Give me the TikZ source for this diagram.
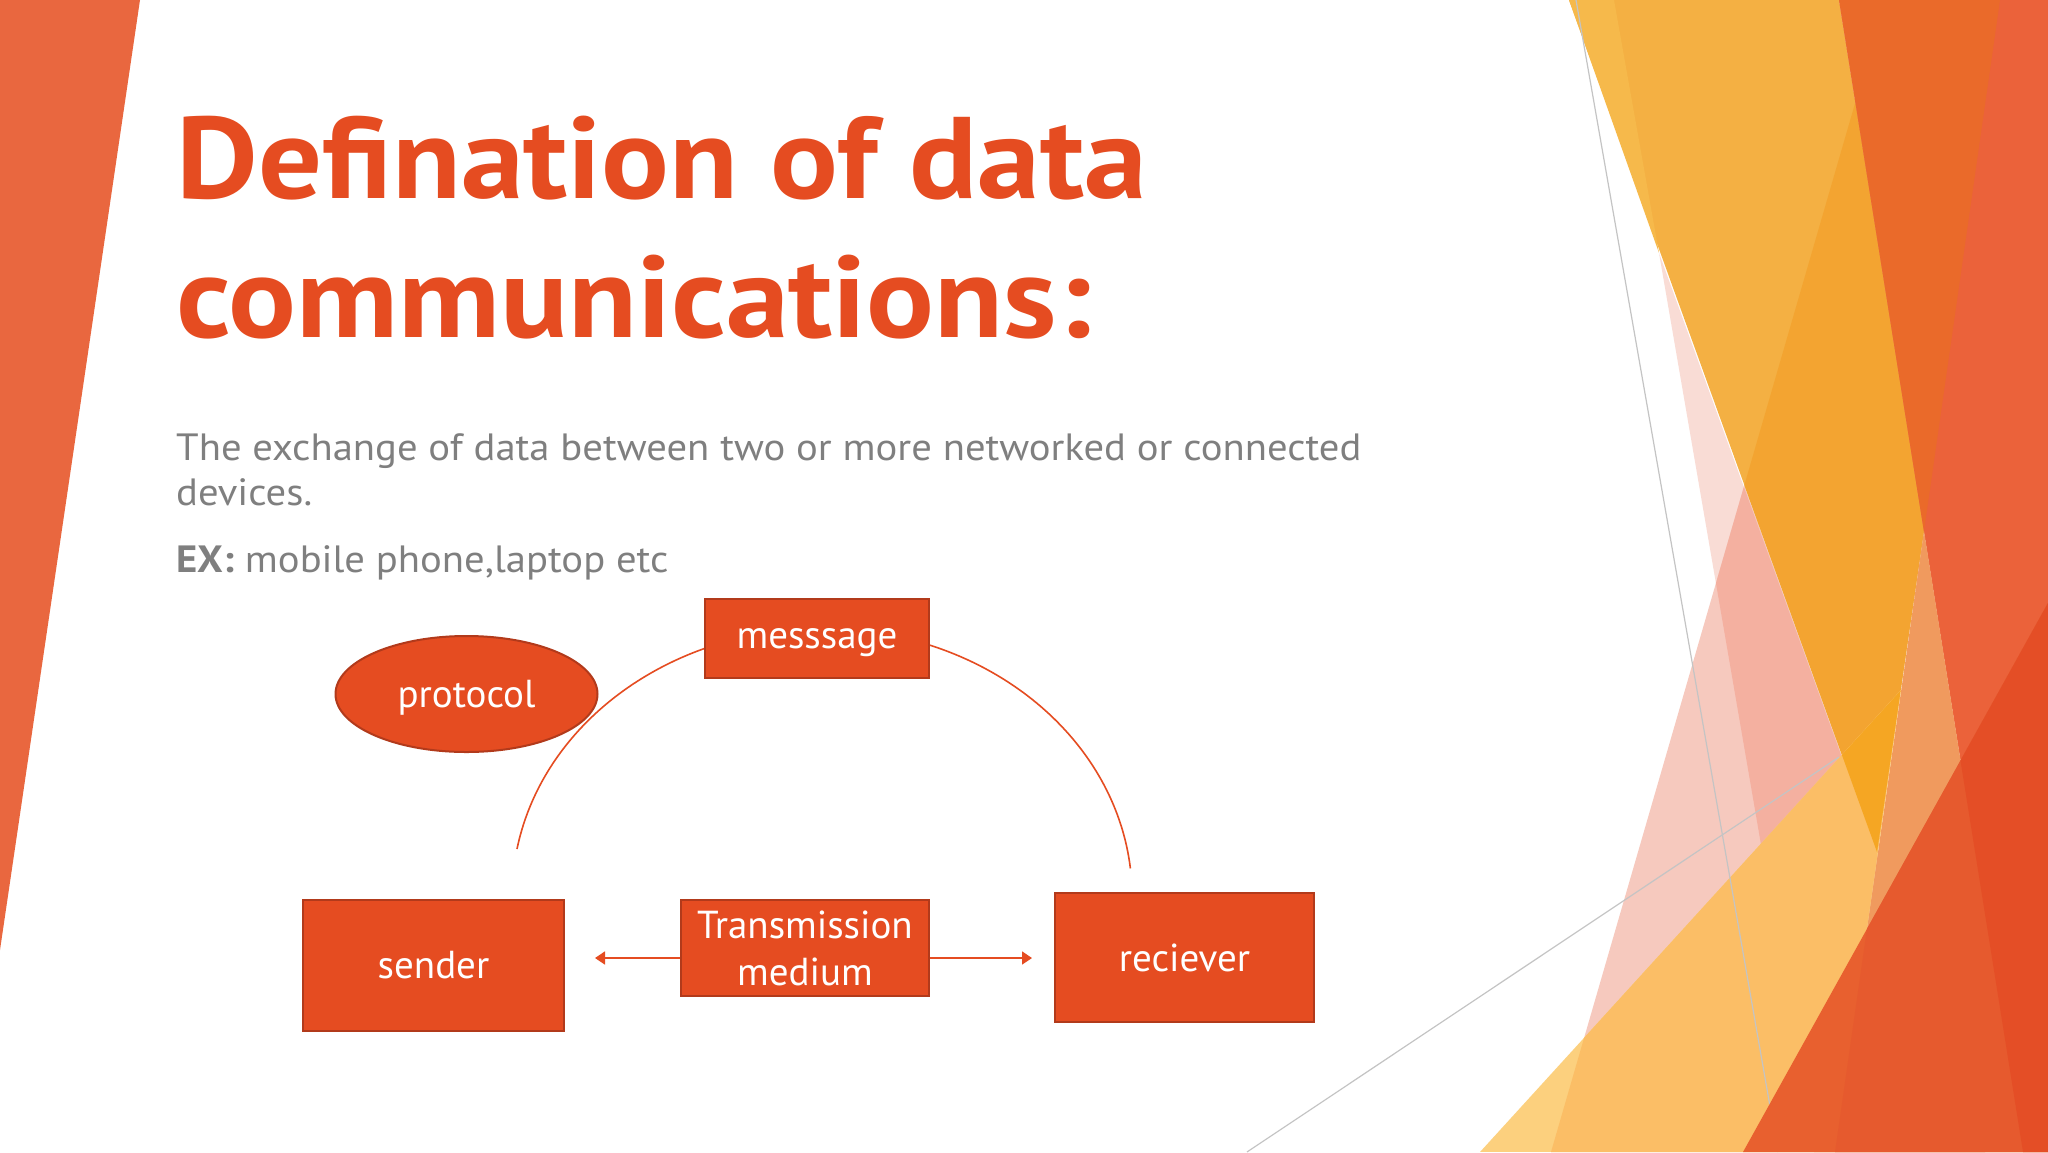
\documentclass[tikz,border=0pt]{standalone}
\usepackage{fontspec}
\setmainfont{PT Sans}
\newfontfamily\headfont[FakeStretch=1.09]{PT Sans}
\newfontfamily\slidefont[FakeStretch=1.07]{PT Sans}
\usetikzlibrary{shapes.geometric,arrows.meta}
\definecolor{kred}{HTML}{E54C21}
\definecolor{kedge}{HTML}{B23A1B}
\definecolor{kgray}{HTML}{7F7F7F}
\definecolor{kcoral}{HTML}{E9673F}
\definecolor{fyel}{HTML}{F4B043}
\definecolor{fyellt}{HTML}{F6B94B}
\definecolor{fyeldp}{HTML}{F3A431}
\definecolor{fpinklt}{HTML}{F9DCD5}
\definecolor{fpinkmd}{HTML}{F6C9BE}
\definecolor{fsalmon}{HTML}{F4B0A0}
\definecolor{fcoral}{HTML}{EB623A}
\definecolor{fdark}{HTML}{EA6A2A}
\definecolor{flight}{HTML}{F09A5E}
\definecolor{fband}{HTML}{FBBE66}
\definecolor{fbandlt}{HTML}{FCD07E}
\definecolor{fbanddp}{HTML}{F5A623}
\definecolor{fred}{HTML}{E8602F}
\definecolor{fredmd}{HTML}{E65A2E}
\definecolor{freddk}{HTML}{E44E26}
\definecolor{fline}{HTML}{C4C4C4}

\begin{document}
\begin{tikzpicture}[x=1pt,y=-1pt,
  box/.style={draw=kedge,line width=2pt,fill=kred,text=white,
    font=\fontsize{39}{47}\selectfont,align=center,inner sep=0pt},
  conn/.style={kred,line width=1.6pt},
  headline/.style={kred,anchor=base west,inner sep=0pt,
    font=\headfont\fontsize{116}{139}\bfseries\selectfont},
  bodyline/.style={kgray,anchor=base west,inner sep=0pt,
    font=\slidefont\fontsize{38}{45}\selectfont}]
  \fill[white] (0,0) rectangle (2048,1152);
  \useasboundingbox (0,0) rectangle (2048,1152);
  \clip (0,0) rectangle (2048,1152);

  % Left facet
  \fill[kcoral] (0,0) -- (140,0) -- (0,950) -- cycle;

  % Right facets (flat pieces, back to front)
  \fill[fpinklt] (1659,253) -- (1985,1152) -- (1814,1152) -- cycle;
  \begin{scope}
    \clip (1885,0) -- (2048,0) -- (2048,1152) -- (1551,1152) -- cycle;
    \fill[fpinkmd] (1400,0) -- (1569,0) -- (1985,1152) -- (1400,1152) -- cycle;
    \fill[fsalmon] (1659,253) -- (1985,1152) -- (1814,1152) -- cycle;
  \end{scope}
  \fill[fyel] (1569,0) -- (1839,0) -- (1924,531) -- (1877,852) -- cycle;
  \fill[fyellt] (1569,0) -- (1614,0) -- (1659,253) -- cycle;
  \begin{scope}
    \clip (1569,0) -- (1839,0) -- (1924,531) -- (1877,852) -- cycle;
    \fill[fyeldp] (1885,0) -- (2048,0) -- (2048,1152) -- (1551,1152) -- cycle;
  \end{scope}
  \fill[fcoral] (1839,0) -- (2048,0) -- (2048,1152) -- (2023,1152) -- cycle;
  \fill[fdark] (1839,0) -- (2000,0) -- (1924,531) -- cycle;
  \fill[flight] (1924,531) -- (2023,1152) -- (1835,1152) -- cycle;

  % Lower band
  \begin{scope}
    \clip (1480,1152) -- (1901,690) -- (1835,1152) -- cycle;
    \fill[fbandlt] (1400,600) rectangle (2048,1152);
    \fill[fband] (1885,0) -- (2048,0) -- (2048,1152) -- (1551,1152) -- cycle;
    \fill[fbanddp] (1569,0) -- (1839,0) -- (1924,531) -- (1877,852) -- cycle;
  \end{scope}

  % Thin guide lines
  \draw[fline,line width=1.2pt] (1576,0) -- (1778,1152);
  \draw[fline,line width=1.2pt] (1247,1152) -- (1839,757);

  % Bottom right red facet
  \fill[fred] (2048,603) -- (2048,1152) -- (1743,1152) -- cycle;
  \begin{scope}
    \clip (2048,603) -- (2048,1152) -- (1743,1152) -- cycle;
    \fill[fredmd] (2000,0) -- (2048,0) -- (2048,1152) -- (1835,1152) -- cycle;
    \fill[freddk] (1839,0) -- (2048,0) -- (2048,1152) -- (2023,1152) -- cycle;
  \end{scope}

  % Heading and text
  \node[headline] (title1) at (176,198) {Defination of data};
  \node[headline] (title2) at (176,337) {communications:};
  \node[bodyline] (body1) at (176,460) {The exchange of data between two or more networked or connected};
  \node[bodyline] (body2) at (176,505) {devices.};
  \node[bodyline] (ex) at (176,572) {\textbf{EX:} mobile phone,laptop etc};

  % Arc behind the message box
  \coordinate (arcL) at (517,849);
  \draw[conn] (arcL) arc[start angle=-169.8,end angle=-6,x radius=310,y radius=268];

  % Diagram
  \node[box,text depth=0pt,minimum width=224pt,minimum height=79pt] (msg) at (817,638.5) {messsage};
  \node[box,text depth=0pt,ellipse,minimum width=262pt,minimum height=116pt] (proto) at (466.5,694) {protocol};
  \node[box,minimum width=261pt,minimum height=131pt] (sender) at (433.5,965.5) {sender};
  \node[box,minimum width=248pt,minimum height=96pt] (medium) at (805,948) {Transmission\\medium};
  \node[box,minimum width=259pt,minimum height=129pt] (recv) at (1184.5,957.5) {reciever};

  \coordinate (tipL) at (595,958);
  \coordinate (tipR) at (1032,958);
  \draw[conn,-{Triangle[length=10pt,width=13pt]}] (medium.west |- tipL) -- (tipL);
  \draw[conn,-{Triangle[length=10pt,width=13pt]}] (medium.east |- tipR) -- (tipR);

\end{tikzpicture}
\end{document}
